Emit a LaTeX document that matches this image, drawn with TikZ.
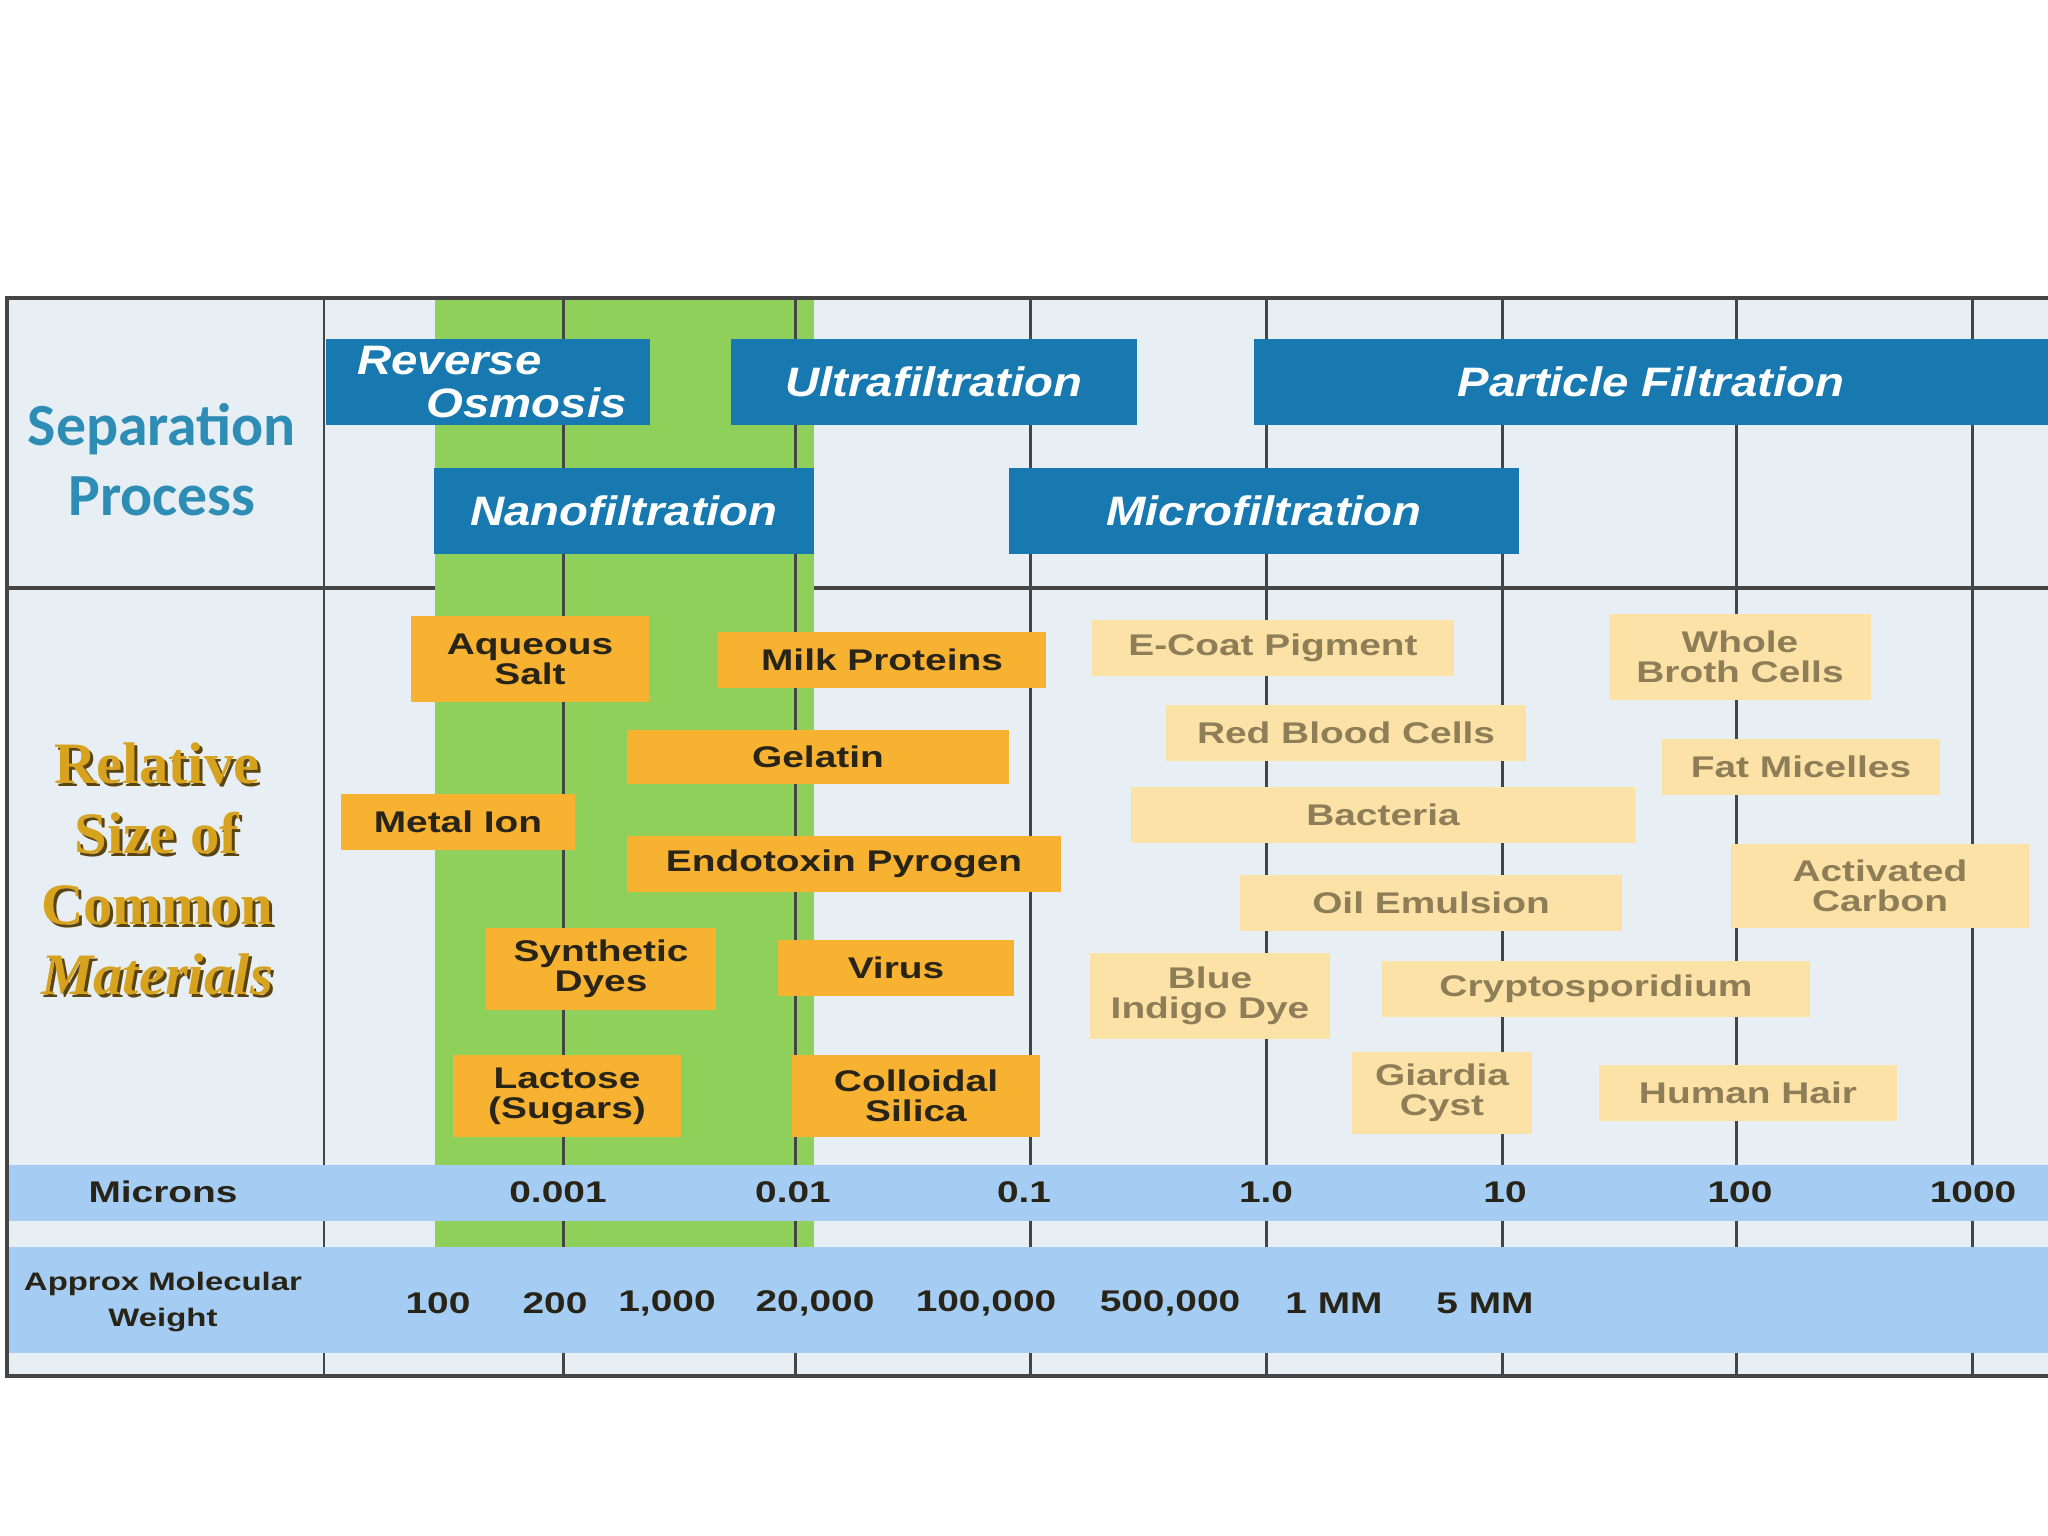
\documentclass[tikz,border=0pt]{standalone}
\usepackage[dvipsnames]{xcolor}
\usepackage{fontspec}
\usepackage{tikz}
\setmainfont{Liberation Sans}
\newfontfamily\procfont[FakeStretch=1.15]{Liberation Sans}
\newfontfamily\boxfont[FakeStretch=1.3]{Liberation Sans}
\newfontfamily\headfont{Carlito}
\newfontfamily\goldfont{Liberation Serif}
\definecolor{bgpanel}{RGB}{232,239,244}
\definecolor{gridgreen}{RGB}{143,208,90}
\definecolor{bandblue}{RGB}{165,205,244}
\definecolor{procblue}{RGB}{23,121,175}
\definecolor{matorange}{RGB}{248,178,50}
\definecolor{matpale}{RGB}{252,226,166}
\definecolor{mattext}{RGB}{40,36,24}
\definecolor{paletext}{RGB}{142,126,88}
\definecolor{septeal}{RGB}{46,141,181}
\definecolor{goldtext}{RGB}{215,162,30}
\definecolor{goldshade}{RGB}{90,69,18}
\definecolor{gridline}{RGB}{69,69,69}

\begin{document}
\begin{tikzpicture}[x=0.01cm,y=-0.01cm,
        procbox/.style={fill=procblue,text=white,inner sep=0pt,align=center,
            font=\procfont\bfseries\itshape\fontsize{11.7}{12}\selectfont},
        matbox/.style={fill=matorange,text=mattext,inner sep=0pt,align=center,
            font=\boxfont\bfseries\fontsize{8.5}{8.6}\selectfont},
        palebox/.style={matbox,fill=matpale,text=paletext},
        scalelabel/.style={text=mattext,inner sep=0pt,
            font=\boxfont\bfseries\fontsize{8.5}{9}\selectfont}]
        \useasboundingbox[fill=white] (0,0) rectangle (2048,1536);
        % panel, green band, grid
        \fill[bgpanel] (7,298) rectangle (2048,1376);
        \draw[gridline,line width=1.1pt] (7,588) -- (2048,588);
        \fill[gridgreen] (435,298) rectangle (814,1247);
        \foreach \gx in {324,563,795,1030,1266,1502,1736,1972}
            \draw[gridline,line width=0.85pt] (\gx,298) -- (\gx,1376);
        \fill[bandblue] (7,1165) rectangle (2048,1221);
        \fill[bandblue] (7,1247) rectangle (2048,1353);
        \draw[gridline,line width=1.2pt] (2048,298) -| (7,1376) -- (2048,1376);
        % separation processes
        \node[procbox,minimum width=3.23cm,minimum height=0.85cm] (ro) at (488,382) {Reverse\hspace*{22pt}\\\hspace*{22pt}Osmosis};
        \node[procbox,minimum width=4.05cm,minimum height=0.85cm] (uf) at (934,382) {Ultrafiltration};
        \node[procbox,minimum width=7.94cm,minimum height=0.85cm] (pf) at (1651,382) {Particle Filtration};
        \node[procbox,minimum width=3.79cm,minimum height=0.86cm] (nf) at (624,511) {Nanofiltration};
        \node[procbox,minimum width=5.09cm,minimum height=0.86cm] (mf) at (1264,511) {Microfiltration};
        % materials
        \foreach \nm/\cx/\cy/\w/\h/\txt in {aq/530/659/2.38/0.85/{Aqueous\\Salt},
                milk/882/660/3.27/0.56/{Milk Proteins}, gel/818/757/3.81/0.53/{Gelatin},
                metal/458/822/2.33/0.55/{Metal Ion}, endo/844/864/4.34/0.56/{Endotoxin Pyrogen},
                dyes/601/969/2.30/0.81/{Synthetic\\Dyes}, virus/896/968/2.36/0.55/{Virus},
                lact/567/1096/2.27/0.81/{Lactose\\(Sugars)}, silica/916/1096/2.48/0.81/{Colloidal\\Silica}}
            \node[matbox,minimum width=\w cm,minimum height=\h cm] (\nm) at (\cx,\cy) {\txt};
        \foreach \nm/\cx/\cy/\w/\h/\txt in {ecoat/1273/648/3.61/0.55/{E-Coat Pigment},
                whole/1740/657/2.61/0.86/{Whole\\Broth Cells}, rbc/1346/733/3.60/0.55/{Red Blood Cells},
                fat/1801/767/2.77/0.55/{Fat Micelles}, bact/1383/815/5.04/0.55/{Bacteria},
                carbon/1880/886/2.98/0.84/{Activated\\Carbon}, oil/1431/903/3.81/0.56/{Oil Emulsion},
                indigo/1210/996/2.39/0.85/{Blue\\Indigo Dye}, crypto/1596/989/4.28/0.55/{Cryptosporidium},
                giardia/1442/1093/1.80/0.81/{Giardia\\Cyst}, hair/1748/1093/2.97/0.55/{Human Hair}}
            \node[palebox,minimum width=\w cm,minimum height=\h cm] (\nm) at (\cx,\cy) {\txt};
        % row titles
        \node[text=septeal,align=center,font=\headfont\bfseries\fontsize{17}{20}\selectfont] (sep) at (162,460) {Separation\\Process};
        \node[text=goldshade,align=center,font=\goldfont\bfseries\fontsize{16.7}{20}\selectfont] (relshade) at (160,872) {Relative\\Size of\\Common\\\itshape Materials};
        \node[text=goldtext,align=center,font=\goldfont\bfseries\fontsize{16.7}{20}\selectfont] (rel) at (157,869) {Relative\\Size of\\Common\\\itshape Materials};
        % scales
        \node[scalelabel] (microns) at (163,1192) {Microns};
        \foreach \nm/\gx/\val in {u1/558/0.001, u2/793/0.01, u3/1024/0.1, u4/1266/1.0,
                u5/1505/10, u6/1740/100, u7/1973/1000}
            \node[scalelabel] (\nm) at (\gx,1192) {\val};
        \node[scalelabel,align=center,font=\boxfont\bfseries\fontsize{7.2}{10.5}\selectfont] (amw) at (163,1302) {Approx Molecular\\Weight};
        \foreach \nm/\gx/\val in {w1/438/100, w2/555/200, w3/667/{1,000}, w4/815/{20,000},
                w5/986/{100,000}, w6/1170/{500,000}, w7/1334/1 MM, w8/1485/5 MM}
            \node[scalelabel] (\nm) at (\gx,1303) {\val};
    \end{tikzpicture}
\end{document}
